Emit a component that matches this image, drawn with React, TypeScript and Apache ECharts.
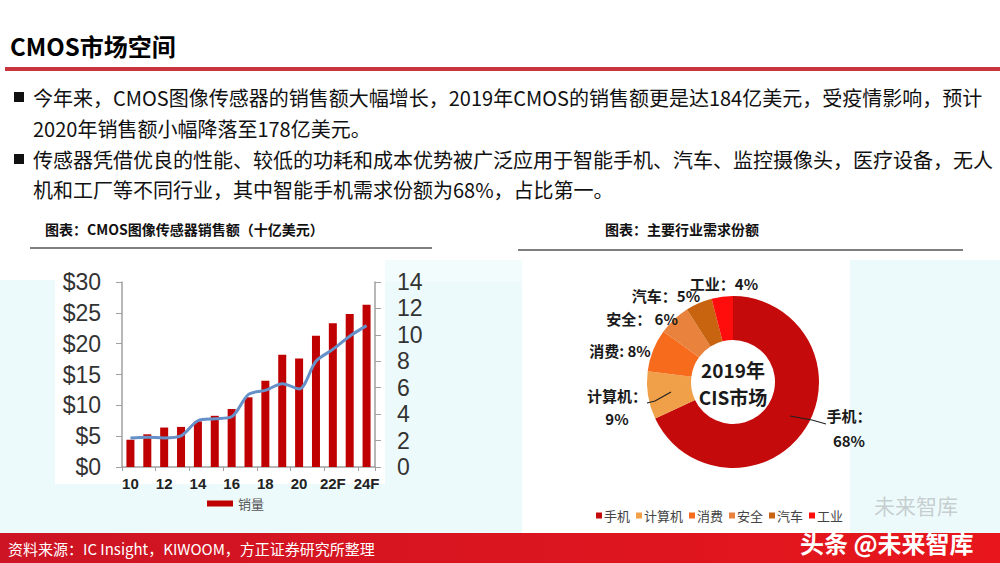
import React, { useEffect, useRef } from "react";
import * as echarts from "echarts";

// ---------- data ----------
const CATEGORIES = ["10", "11", "12", "13", "14", "15", "16", "17", "18", "19", "20", "21F", "22F", "23F", "24F"];
const SALES = [4.4, 5.3, 6.4, 6.5, 7.4, 8.3, 9.4, 11.3, 14.0, 18.2, 17.6, 21.3, 23.3, 24.8, 26.3];
const UNITS = [2.2, 2.25, 2.2, 2.35, 3.5, 3.65, 3.8, 5.5, 5.8, 6.3, 5.9, 8.0, 8.9, 9.9, 10.7];
const LEFT_AXIS = { min: 0, max: 30, interval: 5 };
const RIGHT_AXIS = { min: 0, max: 14, interval: 2 };

const PIE_NAMES = ["手机", "计算机", "消费", "安全", "汽车", "工业"];
const PIE_VALUES = [68, 9, 8, 6, 5, 4];
const PIE_SEPS = ["：\n", "：\n", ": ", "： ", "：", "："];
const PIE_COLORS = ["#C40A0A", "#F0A048", "#F76B1C", "#E8823C", "#C8640F", "#FF0D0D"];

const TITLE = "CMOS市场空间";
const BULLET_LINES = [
  "今年来，CMOS图像传感器的销售额大幅增长，2019年CMOS的销售额更是达184亿美元，受疫情影响，预计",
  "2020年销售额小幅降落至178亿美元。",
  "传感器凭借优良的性能、较低的功耗和成本优势被广泛应用于智能手机、汽车、监控摄像头，医疗设备，无人",
  "机和工厂等不同行业，其中智能手机需求份额为68%，占比第一。",
];
const BULLET_START = [true, false, true, false];
const LEFT_TITLE = "图表：CMOS图像传感器销售额（十亿美元）";
const RIGHT_TITLE = "图表：主要行业需求份额";
const SOURCE = "资料来源：IC Insight，KIWOOM，方正证券研究所整理";
const CENTER_TEXT = ["2019年", "CIS市场"];

const CJK = '"Noto Sans CJK SC", sans-serif';
const LAT = '"Liberation Sans", Arial, sans-serif';

function txt(text: string, x: number, y: number, font: string, fill: string, align = "left", extra: any = {}) {
  return {
    type: "text",
    z: 50,
    style: {
      text,
      x,
      y,
      font,
      fill,
      align,
      textAlign: align,
      verticalAlign: "middle",
      textVerticalAlign: "middle",
      ...extra,
    },
  };
}

export default function App() {
  const ref = useRef<HTMLDivElement>(null);

  useEffect(() => {
    document.body.style.margin = "0";
    const chart = echarts.init(ref.current!, null, { renderer: "svg" });

    const pieLabelPos = [
      [849, 415, 849, 440],
      [617, 395, 617, 418],
      [620, 350],
      [642, 318],
      [666, 295],
      [724, 283],
    ];

    const graphics: any[] = [
      // backgrounds
      { type: "rect", z: 0, shape: { x: 0, y: 280, width: 1000, height: 255 }, style: { fill: "#ECFAFC" } },
      { type: "rect", z: 0, shape: { x: 385, y: 260, width: 137, height: 22 }, style: { fill: "#F2FCFD" } },
      { type: "rect", z: 0, shape: { x: 55, y: 258, width: 330, height: 226 }, style: { fill: "#ffffff" } },
      { type: "rect", z: 0, shape: { x: 522, y: 258, width: 328, height: 277 }, style: { fill: "#ffffff" } },
      { type: "rect", z: 0, shape: { x: 850, y: 260, width: 150, height: 22 }, style: { fill: "#ECFAFC" } },
      // header
      txt(TITLE, 10, 45, `bold 24px ${CJK}`, "#000"),
      { type: "rect", z: 1, shape: { x: 5, y: 67, width: 995, height: 4 }, style: { fill: "#C8353E" } },
      // chart titles
      txt(LEFT_TITLE, 45, 229, `bold 14px ${CJK}`, "#111"),
      { type: "line", z: 1, shape: { x1: 30, y1: 248, x2: 432, y2: 248 }, style: { stroke: "#555", lineWidth: 1.5 } },
      txt(RIGHT_TITLE, 605, 229, `bold 14px ${CJK}`, "#111"),
      { type: "line", z: 1, shape: { x1: 518, y1: 250, x2: 963, y2: 250 }, style: { stroke: "#555", lineWidth: 1.5 } },
      // footer
      {
        type: "rect",
        z: 1,
        shape: { x: 0, y: 533, width: 1000, height: 30 },
        style: {
          fill: new echarts.graphic.LinearGradient(0, 0, 1, 0, [
            { offset: 0, color: "#CC1424" },
            { offset: 1, color: "#E8161C" },
          ]),
        },
      },
      txt(SOURCE, 8, 548, `15px ${CJK}`, "#ffffff"),
      // watermark
      txt("未来智库", 874, 505, `21px ${CJK}`, "rgba(150,150,150,0.45)"),
      txt("头条 @未来智库", 800, 542, `bold 24px ${CJK}`, "#ffffff", "left", {
        shadowColor: "rgba(0,0,0,0.75)",
        shadowBlur: 3,
        shadowOffsetX: 1,
        shadowOffsetY: 1,
      }),
      // pie center
      txt(CENTER_TEXT[0], 733, 369, `bold 19px ${CJK}`, "#1a1a1a", "center"),
      txt(CENTER_TEXT[1], 733, 396, `bold 19px ${CJK}`, "#1a1a1a", "center"),
      // leader lines
      { type: "polyline", z: 40, shape: { points: [[647, 403], [655, 401], [671, 392]] }, style: { stroke: "#222", lineWidth: 1.2, fill: "none" } },
      { type: "polyline", z: 40, shape: { points: [[790, 416], [812, 420], [826, 424]] }, style: { stroke: "#222", lineWidth: 1.2, fill: "none" } },
    ];

    BULLET_LINES.forEach((line, i) => {
      const y = [97, 128, 159, 189][i];
      if (BULLET_START[i]) {
        graphics.push({ type: "rect", z: 50, shape: { x: 14, y: y - 5, width: 10, height: 10 }, style: { fill: "#111" } });
      }
      graphics.push(txt(line, 33, y, `20px ${CJK}`, "#111"));
    });

    PIE_NAMES.forEach((name, i) => {
      const p = pieLabelPos[i];
      const sep = PIE_SEPS[i];
      if (sep.includes("\n")) {
        graphics.push(txt(name + sep.replace("\n", ""), p[0], p[1], `bold 15px ${CJK}`, "#1a1a1a", "center"));
        graphics.push(txt(PIE_VALUES[i] + "%", p[2], p[3], `bold 15px ${CJK}`, "#1a1a1a", "center"));
      } else {
        graphics.push(txt(name + sep + PIE_VALUES[i] + "%", p[0], p[1], `bold 15px ${CJK}`, "#1a1a1a", "center"));
      }
    });

    const axisGray = "#A0A0A0";

    chart.setOption({
      animation: false,
      backgroundColor: "#ffffff",
      textStyle: { fontFamily: CJK },
      grid: { left: 122, right: 625, top: 282, bottom: 96, containLabel: false },
      legend: [
        {
          data: ["销量"],
          left: 207,
          top: 497,
          icon: "rect",
          itemWidth: 26,
          itemHeight: 6,
          padding: 0,
          textStyle: { fontSize: 13, color: "#555", fontFamily: CJK },
          selectedMode: false,
        },
        {
          data: PIE_NAMES,
          left: 596,
          top: 509,
          icon: "rect",
          itemWidth: 6,
          itemHeight: 6,
          itemGap: 6,
          padding: 0,
          textStyle: { fontSize: 13, color: "#444", fontFamily: CJK, padding: [0, 0, 0, -3] },
          selectedMode: false,
        },
      ],
      xAxis: {
        type: "category",
        data: CATEGORIES,
        boundaryGap: true,
        axisLine: { lineStyle: { color: axisGray, width: 1.5 } },
        axisTick: { show: true, length: 4, lineStyle: { color: axisGray } },
        axisLabel: { interval: 1, fontSize: 15, fontWeight: "bold", color: "#222", margin: 9, fontFamily: LAT },
      },
      yAxis: [
        {
          type: "value",
          min: LEFT_AXIS.min,
          max: LEFT_AXIS.max,
          interval: LEFT_AXIS.interval,
          axisLine: { show: true, lineStyle: { color: axisGray, width: 1.5 } },
          axisTick: { show: true, length: 6, lineStyle: { color: axisGray } },
          splitLine: { show: false },
          axisLabel: { formatter: "${value}", fontSize: 23, color: "#333", margin: 21, fontFamily: LAT },
        },
        {
          type: "value",
          position: "right",
          min: RIGHT_AXIS.min,
          max: RIGHT_AXIS.max,
          interval: RIGHT_AXIS.interval,
          axisLine: { show: true, lineStyle: { color: axisGray, width: 1.5 } },
          axisTick: { show: true, length: 6, lineStyle: { color: axisGray } },
          splitLine: { show: false },
          axisLabel: { fontSize: 23, color: "#333", margin: 22, fontFamily: LAT },
        },
      ],
      series: [
        {
          name: "销量",
          type: "bar",
          yAxisIndex: 0,
          data: SALES,
          barWidth: 8,
          itemStyle: { color: "#C00000" },
          z: 2,
        },
        {
          name: "出货量",
          type: "line",
          yAxisIndex: 1,
          data: UNITS,
          smooth: 0.3,
          showSymbol: false,
          symbol: "none",
          lineStyle: { color: "#6690C8", width: 3 },
          z: 3,
        },
        {
          name: "份额",
          type: "pie",
          center: [733, 382],
          radius: [42, 86],
          startAngle: 90,
          clockwise: true,
          avoidLabelOverlap: false,
          label: { show: false },
          labelLine: { show: false },
          emphasis: { disabled: true },
          data: PIE_NAMES.map((n, i) => ({ name: n, value: PIE_VALUES[i], itemStyle: { color: PIE_COLORS[i] } })),
          z: 5,
        },
      ],
      graphic: { elements: graphics },
    });

    return () => chart.dispose();
  }, []);

  return <div ref={ref} style={{ width: 1000, height: 563 }} />;
}
